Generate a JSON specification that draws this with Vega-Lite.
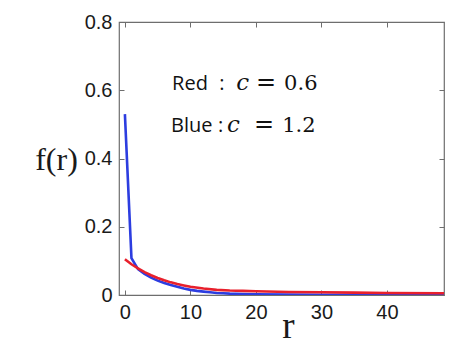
{
  "$schema": "https://vega.github.io/schema/vega-lite/v6.json",
  "width": 325,
  "height": 273,
  "autosize": "none",
  "padding": {"left": 119, "top": 22, "right": 30, "bottom": 59},
  "background": "white",
  "config": {
    "view": {"stroke": "#6e6e6e", "strokeWidth": 1.2},
    "axis": {"grid": false}
  },
  "datasets": {
    "curves": [
      {"r": 0, "f": 0.53, "series": "Blue"},
      {"r": 1, "f": 0.108, "series": "Blue"},
      {"r": 2, "f": 0.076, "series": "Blue"},
      {"r": 3, "f": 0.062, "series": "Blue"},
      {"r": 4, "f": 0.051, "series": "Blue"},
      {"r": 5, "f": 0.042, "series": "Blue"},
      {"r": 6, "f": 0.035, "series": "Blue"},
      {"r": 7, "f": 0.029, "series": "Blue"},
      {"r": 8, "f": 0.024, "series": "Blue"},
      {"r": 9, "f": 0.019, "series": "Blue"},
      {"r": 10, "f": 0.015, "series": "Blue"},
      {"r": 11, "f": 0.012, "series": "Blue"},
      {"r": 12, "f": 0.01, "series": "Blue"},
      {"r": 13, "f": 0.008, "series": "Blue"},
      {"r": 14, "f": 0.006, "series": "Blue"},
      {"r": 15, "f": 0.005, "series": "Blue"},
      {"r": 16, "f": 0.004, "series": "Blue"},
      {"r": 18, "f": 0.003, "series": "Blue"},
      {"r": 20, "f": 0.002, "series": "Blue"},
      {"r": 25, "f": 0.001, "series": "Blue"},
      {"r": 30, "f": 0.0006, "series": "Blue"},
      {"r": 35, "f": 0.0004, "series": "Blue"},
      {"r": 40, "f": 0.0003, "series": "Blue"},
      {"r": 48.7, "f": 0.0002, "series": "Blue"},
      {"r": 0, "f": 0.105, "series": "Red"},
      {"r": 1, "f": 0.09, "series": "Red"},
      {"r": 2, "f": 0.078, "series": "Red"},
      {"r": 3, "f": 0.067, "series": "Red"},
      {"r": 4, "f": 0.058, "series": "Red"},
      {"r": 5, "f": 0.05, "series": "Red"},
      {"r": 6, "f": 0.043, "series": "Red"},
      {"r": 7, "f": 0.037, "series": "Red"},
      {"r": 8, "f": 0.032, "series": "Red"},
      {"r": 9, "f": 0.028, "series": "Red"},
      {"r": 10, "f": 0.024, "series": "Red"},
      {"r": 12, "f": 0.019, "series": "Red"},
      {"r": 14, "f": 0.015, "series": "Red"},
      {"r": 16, "f": 0.013, "series": "Red"},
      {"r": 18, "f": 0.012, "series": "Red"},
      {"r": 20, "f": 0.011, "series": "Red"},
      {"r": 25, "f": 0.009, "series": "Red"},
      {"r": 30, "f": 0.008, "series": "Red"},
      {"r": 35, "f": 0.007, "series": "Red"},
      {"r": 40, "f": 0.006, "series": "Red"},
      {"r": 48.7, "f": 0.005, "series": "Red"}
    ]
  },
  "layer": [
    {
      "data": {"name": "curves"},
      "mark": {"type": "line", "strokeWidth": 2.6, "clip": true},
      "encoding": {
        "x": {
          "field": "r", "type": "quantitative",
          "scale": {"domain": [-0.9, 48.7], "nice": false, "zero": false},
          "axis": {
            "orient": "bottom", "values": [0, 10, 20, 30, 40],
            "domain": false, "tickSize": -5, "tickColor": "#6e6e6e",
            "labelFont": "Liberation Sans", "labelFontSize": 20, "labelColor": "#1a1a1a",
            "labelPadding": 12,
            "title": "r", "titleFont": "Liberation Serif", "titleFontSize": 37,
            "titleFontWeight": "normal", "titleColor": "#1a1a1a",
            "titleBaseline": "alphabetic", "titleX": 169, "titleY": 42
          }
        },
        "y": {
          "field": "f", "type": "quantitative",
          "scale": {"domain": [0, 0.8], "nice": false},
          "axis": {
            "orient": "left", "values": [0, 0.2, 0.4, 0.6, 0.8], "format": "~g",
            "domain": false, "tickSize": -5, "tickColor": "#6e6e6e",
            "labelFont": "Liberation Sans", "labelFontSize": 20, "labelColor": "#1a1a1a",
            "labelPadding": 12,
            "title": "f(r)", "titleFont": "Liberation Serif", "titleFontSize": 32,
            "titleFontWeight": "normal", "titleColor": "#1a1a1a", "titleAngle": 0,
            "titleAlign": "center", "titleBaseline": "middle", "titleX": -63, "titleY": 137
          }
        },
        "color": {
          "field": "series", "type": "nominal",
          "scale": {"domain": ["Blue", "Red"], "range": ["#2c3de0", "#e8202c"]},
          "legend": null
        },
        "order": {"field": "series", "sort": "ascending"}
      }
    },
    {
      "data": {"name": "curves"},
      "mark": {"type": "line", "opacity": 0},
      "encoding": {
        "x": {
          "field": "r", "type": "quantitative",
          "axis": {"orient": "top", "values": [0, 10, 20, 30, 40], "labels": false, "domain": false,
                   "tickSize": -5, "tickColor": "#6e6e6e", "title": null}
        },
        "y": {
          "field": "f", "type": "quantitative",
          "axis": {"orient": "right", "values": [0, 0.2, 0.4, 0.6, 0.8], "labels": false, "domain": false,
                   "tickSize": -5, "tickColor": "#6e6e6e", "title": null}
        }
      }
    },
    {
      "data": {"values": [{}]},
      "mark": {"type": "text", "font": "Open Sans", "fontSize": 20, "align": "left", "baseline": "alphabetic", "color": "#111"},
      "encoding": {"x": {"datum": 7.2, "axis": null}, "y": {"datum": 0.6, "axis": null}, "text": {"value": "Red"}}
    },
    {
      "data": {"values": [{}]},
      "mark": {"type": "text", "font": "Open Sans", "fontSize": 20, "align": "center", "baseline": "alphabetic", "color": "#111"},
      "encoding": {"x": {"datum": 14.8, "axis": null}, "y": {"datum": 0.6, "axis": null}, "text": {"value": ":"}}
    },
    {
      "data": {"values": [{}]},
      "mark": {"type": "text", "font": "DejaVu Serif", "fontStyle": "italic", "fontSize": 23, "align": "left", "baseline": "alphabetic", "color": "#111"},
      "encoding": {"x": {"datum": 17.0, "axis": null}, "y": {"datum": 0.6, "axis": null}, "text": {"value": "c"}}
    },
    {
      "data": {"values": [{}]},
      "mark": {"type": "text", "font": "DejaVu Serif", "fontSize": 24, "align": "left", "baseline": "alphabetic", "color": "#111"},
      "encoding": {"x": {"datum": 20.0, "axis": null}, "y": {"datum": 0.6, "axis": null}, "text": {"value": "="}}
    },
    {
      "data": {"values": [{}]},
      "mark": {"type": "text", "font": "DejaVu Serif", "fontSize": 21, "align": "left", "baseline": "alphabetic", "color": "#111"},
      "encoding": {"x": {"datum": 24.3, "axis": null}, "y": {"datum": 0.6, "axis": null}, "text": {"value": "0.6"}}
    },
    {
      "data": {"values": [{}]},
      "mark": {"type": "text", "font": "Open Sans", "fontSize": 20, "align": "left", "baseline": "alphabetic", "color": "#111"},
      "encoding": {"x": {"datum": 7.05, "axis": null}, "y": {"datum": 0.477, "axis": null}, "text": {"value": "Blue"}}
    },
    {
      "data": {"values": [{}]},
      "mark": {"type": "text", "font": "Open Sans", "fontSize": 20, "align": "center", "baseline": "alphabetic", "color": "#111"},
      "encoding": {"x": {"datum": 14.6, "axis": null}, "y": {"datum": 0.477, "axis": null}, "text": {"value": ":"}}
    },
    {
      "data": {"values": [{}]},
      "mark": {"type": "text", "font": "DejaVu Serif", "fontStyle": "italic", "fontSize": 23, "align": "left", "baseline": "alphabetic", "color": "#111"},
      "encoding": {"x": {"datum": 15.6, "axis": null}, "y": {"datum": 0.477, "axis": null}, "text": {"value": "c"}}
    },
    {
      "data": {"values": [{}]},
      "mark": {"type": "text", "font": "DejaVu Serif", "fontSize": 24, "align": "left", "baseline": "alphabetic", "color": "#111"},
      "encoding": {"x": {"datum": 19.7, "axis": null}, "y": {"datum": 0.477, "axis": null}, "text": {"value": "="}}
    },
    {
      "data": {"values": [{}]},
      "mark": {"type": "text", "font": "DejaVu Serif", "fontSize": 21, "align": "left", "baseline": "alphabetic", "color": "#111"},
      "encoding": {"x": {"datum": 24.0, "axis": null}, "y": {"datum": 0.477, "axis": null}, "text": {"value": "1.2"}}
    }
  ],
  "resolve": {"axis": {"x": "independent", "y": "independent"}}
}
